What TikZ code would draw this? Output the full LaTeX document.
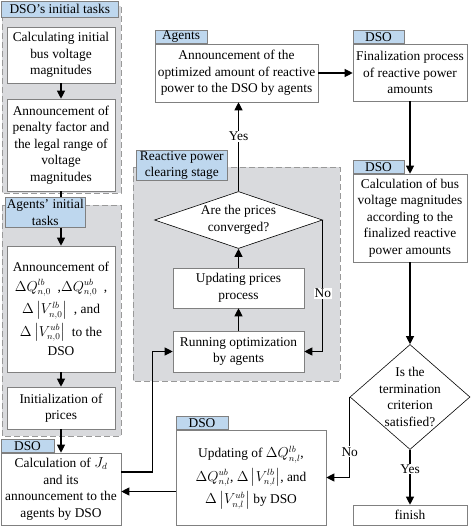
\documentclass[tikz,border=0pt]{standalone}
\usepackage{amsmath}
\usepackage{fontspec}
\setmainfont{Liberation Serif}
\usetikzlibrary{shapes.geometric,arrows.meta}
\definecolor{tagblue}{RGB}{190,215,238}
\definecolor{grpgray}{RGB}{217,218,221}

\begin{document}
\begin{tikzpicture}[
                x=1pt, y=-1pt,
                font=\fontsize{13.4}{16.5}\selectfont,
                group/.style={draw=gray!80, dash pattern=on 6pt off 3pt, fill=grpgray, line width=0.8pt},
                box/.style={draw=gray, fill=white, align=center, inner sep=1pt, line width=0.6pt},
                tag/.style={draw=gray, fill=tagblue, align=center, inner sep=0pt, minimum height=13, line width=0.6pt},
                decision/.style={diamond, draw=black, fill=white, inner sep=0pt, line width=0.6pt},
                flow/.style={draw, line width=1.1pt, -{Triangle[length=8pt,width=8pt]}},
                lbl/.style={fill=white, inner sep=1pt}
                ]
                \useasboundingbox (0,0) rectangle (474,526);
                % stage backgrounds
                \draw[group] (2,6) rectangle (121,193);
                \draw[group] (2,205) rectangle (121,436);
                \draw[group] (133,167) rectangle (340,381);
                % left column
                \node[box, minimum width=108, minimum height=56] (calcinit) at (61,55) {Calculating initial\\bus voltage\\magnitudes};
                \node[box, minimum width=108, minimum height=92] (penalty) at (61,145) {Announcement of\\penalty factor and\\the legal range of\\voltage\\magnitudes};
                \node[box, minimum width=108, minimum height=126] (announce) at (61,309) {Announcement of\\[3pt]$\Delta Q^{lb}_{n,0}$\ \ ,$\Delta Q^{ub}_{n,0}$\ \ ,\\[4pt]$\Delta\left|V^{lb}_{n,0}\right|$\ \ , and\\[4pt]$\Delta\left|V^{ub}_{n,0}\right|$\ \ to the\\[3pt]DSO};
                \node[box, minimum width=108, minimum height=42] (initprices) at (61,408) {Initialization of\\prices};
                \node[box, minimum width=120, minimum height=72] (jd) at (61,489) {Calculation of $J_d$\\and its\\announcement to the\\agents by DSO};
                % middle column
                \node[box, minimum width=163, minimum height=58] (agentsbox) at (236.5,73) {Announcement of the\\optimized amount of reactive\\power to the DSO by agents};
                \node[decision, minimum width=168, minimum height=57, label={[align=center]center:Are the prices\\converged?}] (converged) at (238.5,220) {};
                \node[box, minimum width=131, minimum height=40] (updprices) at (238.5,288) {Updating prices\\process};
                \node[box, minimum width=131, minimum height=41] (runopt) at (238.5,351.5) {Running optimization\\by agents};
                \node[box, minimum width=150, minimum height=95] (updbox) at (251,477.5) {Updating of $\Delta Q^{lb}_{n,l}$,\\[5pt]$\Delta Q^{ub}_{n,l}$, $\Delta\left|V^{lb}_{n,l}\right|$, and\\[4pt]$\Delta\left|V^{ub}_{n,l}\right|$ by DSO};
                % right column
                \node[box, minimum width=114, minimum height=57] (finbox) at (410,72.5) {Finalization process\\of reactive power\\amounts};
                \node[box, minimum width=114, minimum height=88] (calcbus) at (410,218) {Calculation of bus\\voltage magnitudes\\according to the\\finalized reactive\\power amounts};
                \node[decision, minimum width=120, minimum height=105, label={[align=center]center:Is the\\termination\\criterion\\satisfied?}] (term) at (410,397) {};
                \node[box, minimum width=114, minimum height=20] (finish) at (410,515) {finish};
                % tags
                \node[tag, minimum width=117, minimum height=16, anchor=north west] (tDSOinit) at (1,1) {DSO's initial tasks};
                \node[tag, minimum width=80, minimum height=30, anchor=north west] (tAgInit) at (5,197) {Agents' initial\\tasks};
                \node[tag, minimum width=91, minimum height=30, anchor=north west] (tRPC) at (136,150) {Reactive power\\clearing stage};
                \node[tag, minimum width=52, anchor=south west] (tAgents) at (agentsbox.north west) {Agents};
                \node[tag, minimum width=51, anchor=south west] (tFin) at (finbox.north west) {DSO};
                \node[tag, minimum width=51, anchor=south west] (tCalc) at (calcbus.north west) {DSO};
                \node[tag, minimum width=52, anchor=south west] (tUpd) at (updbox.north west) {DSO};
                \node[tag, minimum width=53, anchor=south west] (tJd) at (jd.north west) {DSO};
                % connectors
                \draw[flow] (calcinit) -- (penalty);
                \draw[line width=1.1pt] (penalty.south) -- (penalty.south |- tAgInit.north);
                \draw[flow] (penalty.south |- tAgInit.south) -- (announce);
                \draw[flow] (announce) -- (initprices);
                \draw[flow] (initprices.south) -- (initprices.south |- jd.north);
                \draw[flow] ([yshift=17]jd.east) -| ([xshift=-20]runopt.west) -- (runopt.west);
                \draw[flow] ([yshift=-14]updbox.west) -- ([yshift=-14]updbox.west -| jd.east);
                \draw[flow] (runopt) -- (updprices);
                \draw[flow] (updprices) -- (converged);
                \draw[flow] (converged.north) -- node[lbl, pos=0.62] {Yes} (converged.north |- agentsbox.south);
                \draw[flow] (converged.east) |- node[lbl, pos=0.28] {No} (runopt.east);
                \draw[flow] (agentsbox.east) -- (agentsbox.east -| finbox.west);
                \draw[flow] (finbox) -- (calcbus);
                \draw[flow] (calcbus) -- (term);
                \draw[flow] (term.west) |- node[lbl, pos=0.34] {No} (updbox.east);
                \draw[flow] (term) -- node[lbl, pos=0.35] {Yes} (finish);
\end{tikzpicture}
\end{document}
